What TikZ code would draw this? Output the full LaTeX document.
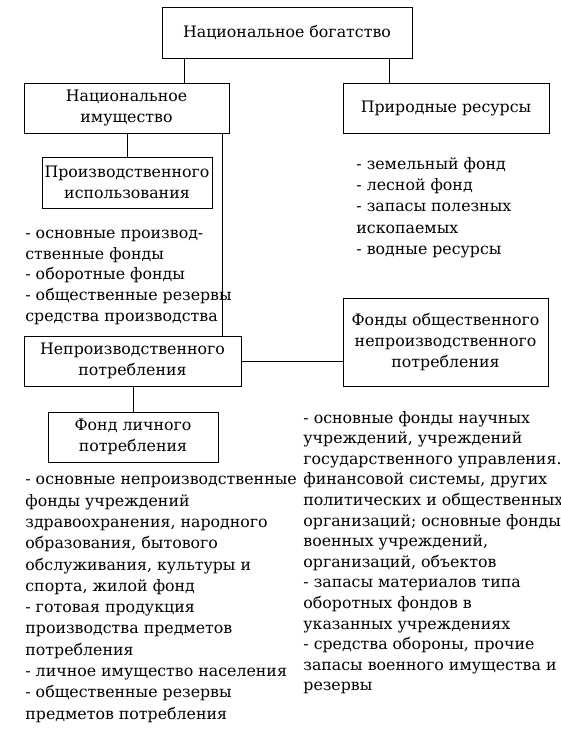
\documentclass[tikz,border=0pt]{standalone}
\usepackage{fontspec}
\setmainfont{DejaVu Serif}
\begin{document}
\begin{tikzpicture}[x=1pt, y=-1pt, line width=0.8pt,
    box/.style={draw, rectangle, align=center, inner sep=0pt, font=\fontsize{15.8}{21}\selectfont},
    list/.style={anchor=north west, align=left, inner sep=0pt}]
    \useasboundingbox (0,0) rectangle (560,733);

    % Define nodes
    \node[box, minimum width=250pt, minimum height=51pt] at (287, 32.5) (wealth) {Национальное богатство};
    \node[box, minimum width=205pt, minimum height=50pt] at (126.5, 108) (property) {Национальное\\имущество};
    \node[box, minimum width=206pt, minimum height=50pt] at (446, 108) (resources) {Природные ресурсы};
    \node[box, minimum width=170pt, minimum height=51pt] at (127, 182.5) (production) {Производственного\\использования};
    \node[box, minimum width=217pt, minimum height=50pt] at (132.5, 361) (nonprod) {Непроизводственного\\потребления};
    \node[box, minimum width=205pt, minimum height=88pt] at (445.5, 342) (social) {Фонды общественного\\непроизводственного\\потребления};
    \node[box, minimum width=170pt, minimum height=50pt] at (133, 437) (personal) {Фонд личного\\потребления};

    % Define lists
    \node[list, font=\fontsize{15.8}{21.3}\selectfont] at (356, 154) (resources list) {\strut- земельный фонд\\- лесной фонд\\- запасы полезных\\ископаемых\\- водные ресурсы};
    \node[list, font=\fontsize{15.8}{20.75}\selectfont] at (25, 223.5) (production list) {\strut- основные производ-\\ственные фонды\\- оборотные фонды\\- общественные резервы\\средства производства};
    \node[list, font=\fontsize{15.8}{21.3}\selectfont] at (25, 469.5) (personal list) {\strut- основные непроизводственные\\фонды учреждений\\здравоохранения, народного\\образования, бытового\\обслуживания, культуры и\\спорта, жилой фонд\\- готовая продукция\\производства предметов\\потребления\\- личное имущество населения\\- общественные резервы\\предметов потребления};
    \node[list, font=\fontsize{15.8}{20.6}\selectfont] at (303, 408.3) (social list) {\strut- основные фонды научных\\учреждений, учреждений\\государственного управления.\\финансовой системы, других\\политических и общественных\\организаций; основные фонды\\военных учреждений,\\организаций, объектов\\- запасы материалов типа\\оборотных фондов в\\указанных учреждениях\\- средства обороны, прочие\\запасы военного имущества и\\резервы};

    % Draw lines
    \draw ([xshift=57.5pt]property.north) -- ([xshift=57.5pt]property.north |- wealth.south);
    \draw ([xshift=-57pt]resources.north) -- ([xshift=-57pt]resources.north |- wealth.south);
    \draw (production.north) -- (production.north |- property.south);
    \draw ([xshift=-7pt]property.south east) -- ([xshift=-7pt]property.south east |- nonprod.north);
    \draw (nonprod.east) -- (nonprod.east -| social.west);
    \draw (personal.north) -- (personal.north |- nonprod.south);
\end{tikzpicture}
\end{document}
